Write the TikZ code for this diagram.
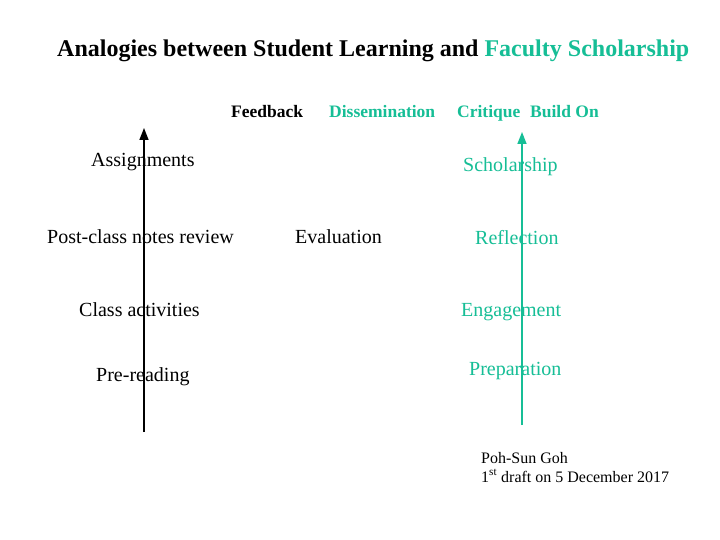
\documentclass[tikz,border=0pt]{standalone}
\usepackage{fontspec}
\setmainfont{Liberation Serif}
\usetikzlibrary{arrows.meta}
\definecolor{teal}{RGB}{22,190,150}
\tikzset{
  lbl/.style={anchor=base west, inner sep=0pt, font=\fontsize{20}{24}\selectfont},
  hdr/.style={anchor=base west, inner sep=0pt, font=\fontsize{17.5}{20}\selectfont\bfseries},
  note/.style={anchor=base west, inner sep=0pt, font=\fontsize{16}{19}\selectfont},
  axis/.style={line width=1.5pt, -{Triangle[length=12pt,width=9pt]}},
}
\begin{document}
\begin{tikzpicture}[x=1pt,y=-1pt]
\useasboundingbox[fill=white] (0,0) rectangle (720,540);
\node[anchor=base west, inner sep=0pt, font=\fontsize{24}{28}\selectfont\bfseries] (title) at (57,57)
  {Analogies between Student Learning and \textcolor{teal}{Faculty Scholarship}};
\node[hdr] (feedback) at (231,118) {Feedback};
\node[hdr, text=teal] (dissem) at (329,118) {Dissemination};
\node[hdr, text=teal] (critique) at (457,118) {Critique};
\node[hdr, text=teal] (buildon) at (530,118) {Build On};
\coordinate (lbot) at (144,432);
\coordinate (ltop) at (144,128);
\coordinate (rbot) at (522,425);
\coordinate (rtop) at (522,132);
\node[lbl] (assign) at (91,166.5) {Assignments};
\node[lbl] (postclass) at (47,243.5) {Post-class notes review};
\node[lbl] (eval) at (295,243.5) {Evaluation};
\node[lbl] (classact) at (79,316) {Class activities};
\node[lbl] (preread) at (96,381.5) {Pre-reading};
\node[lbl, text=teal] (schol) at (463,172) {Scholarship};
\node[lbl, text=teal] (refl) at (475,244) {Reflection};
\node[lbl, text=teal] (engage) at (461,316) {Engagement};
\node[lbl, text=teal] (prep) at (469,375.5) {Preparation};
\draw[axis] (lbot) -- (ltop);
\draw[axis, teal] (rbot) -- (rtop);
\node[note] (author) at (481,463) {Poh-Sun Goh};
\node[note] (draft) at (481,482) {1\textsuperscript{st} draft on 5 December 2017};
\end{tikzpicture}
\end{document}
